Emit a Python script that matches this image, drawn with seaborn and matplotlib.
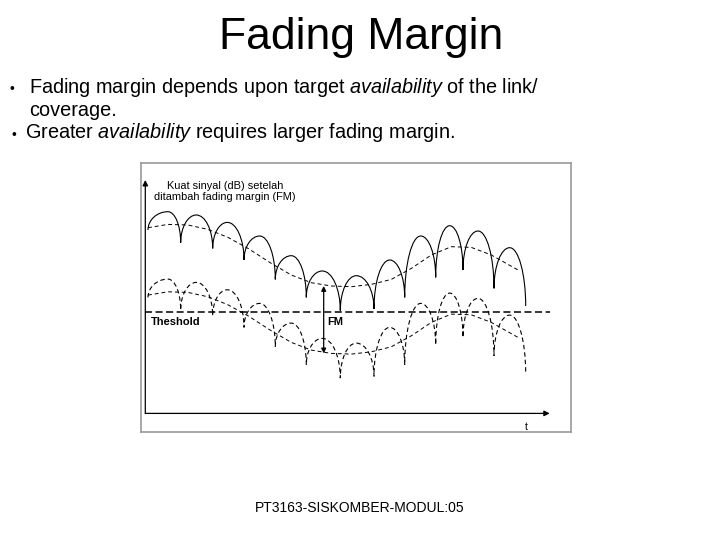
# Fading margin diagram (slide recreation)
import numpy as np
import pandas as pd
import matplotlib
matplotlib.use("Agg")
import matplotlib.pyplot as plt
from matplotlib.path import Path
from matplotlib.patches import PathPatch
import seaborn as sns

# Slide text
title = "Fading Margin"
bullet_1a = r"Fading margin depends upon target $\mathit{availability}$ of the link/"
bullet_1b = "coverage."
bullet_2 = r"Greater $\mathit{availability}$ requires larger fading margin."
footer = "PT3163-SISKOMBER-MODUL:05"

# Received signal (dB after adding FM): cusps (deep fades) and arch peaks
cusp_t = [10, 42.7, 74.7, 106, 137.3, 168.3, 202.3, 236, 266.7, 297.7, 325, 356, 387.7]
cusp_db = [201.7, 189, 183.3, 171.7, 152.3, 134.3, 121, 122.7, 134.3, 154.3, 161.7, 143.3, 125.7]
peak_t = [30, 58.3, 89.3, 121.7, 153.3, 184.3, 218.3, 251.7, 282.7, 311.7, 340, 371.7]
peak_db = [220, 216.7, 209.3, 195.7, 176, 160.7, 156, 171.7, 195.7, 206, 200.7, 184]

# Slow fading (mean level) envelope
env_t = [10, 30, 50, 70, 90, 110, 133.3, 153.3, 173.3, 193.3, 213.3, 233.3,
         253.3, 273.3, 293.3, 313.3, 333.3, 353.3, 380]
env_db = [204, 207.3, 206.7, 202.3, 194.3, 183.3, 168.3, 156.7, 149, 145.7, 145,
          147.3, 152.3, 163.3, 176.7, 185, 184.3, 176.7, 161.7]

fading_margin = 67.4
threshold_db = 119.3
fm_arrow_t = 185.7

sns.set_theme(style="white")
plt.rcParams['font.family'] = ['Liberation Sans', 'DejaVu Sans']
plt.rcParams['text.color'] = 'black'
plt.rcParams['mathtext.fontset'] = 'custom'
plt.rcParams['mathtext.rm'] = 'Liberation Sans'
plt.rcParams['mathtext.it'] = 'Liberation Sans:italic'

fig = plt.figure(figsize=(7.2, 5.4), dpi=100)
W, H = 720, 540

# Slide header, bullets and footer
fig.text(361 / W, 1 - 48.5 / H, title, ha='center', va='baseline', fontsize=32)
fig.text(10 / W, 1 - 93.3 / H, "\u2022", ha='left', va='baseline', fontsize=10)
fig.text(29 / W, 1 - 93.3 / H, bullet_1a, ha='left', va='baseline', fontsize=14.3)
fig.text(29 / W, 1 - 116.5 / H, bullet_1b, ha='left', va='baseline', fontsize=14.3)
fig.text(12 / W, 1 - 138.5 / H, "\u2022", ha='left', va='baseline', fontsize=10)
fig.text(25 / W, 1 - 138.5 / H, bullet_2, ha='left', va='baseline', fontsize=14.3)
fig.text(360 / W, 1 - 508 / H, footer, ha='center', va='center', fontsize=10)

# Diagram frame
ax = fig.add_axes([140.7 / W, 1 - 431.7 / H, 430 / W, 269 / H])
ax.set_xlim(2.7, 432.7)
ax.set_ylim(0, 269)
ax.set_xticks([])
ax.set_yticks([])
for s in ax.spines.values():
    s.set_color('#999999')
    s.set_linewidth(1.2)


def arch_path(ct, cd, pt, pd_, shift=0.0, k=0.55):
    verts = [(ct[0], cd[0] - shift)]
    codes = [Path.MOVETO]
    for i in range(len(pt)):
        xa, ya = ct[i], cd[i] - shift
        xb, yb = ct[i + 1], cd[i + 1] - shift
        xp, yp = pt[i], pd_[i] - shift
        verts += [(xa, ya + k * (yp - ya)), (xp - k * (xp - xa), yp), (xp, yp)]
        verts += [(xp + k * (xb - xp), yp), (xb, yb + k * (yp - yb)), (xb, yb)]
        codes += [Path.CURVE4] * 6
    return Path(verts, codes)


# Signal with FM (solid) and without FM (dashed)
ax.add_patch(PathPatch(arch_path(cusp_t, cusp_db, peak_t, peak_db),
                       fill=False, lw=0.8, color='black'))
ax.add_patch(PathPatch(arch_path(cusp_t, cusp_db, peak_t, peak_db, shift=fading_margin),
                       fill=False, lw=0.8, color='black', linestyle=(0, (4, 2.7))))

# Envelopes
env = pd.DataFrame({'t': env_t, 'db': env_db})
env['db_low'] = env['db'] - fading_margin
sns.lineplot(data=env, x='t', y='db', ax=ax, color='black', lw=0.7,
             linestyle=(0, (4, 3)), sort=False)
sns.lineplot(data=env, x='t', y='db_low', ax=ax, color='black', lw=0.7,
             linestyle=(0, (4, 3)), sort=False)

# Threshold line
thr = pd.DataFrame({'t': [7.3, 411.7], 'db': [threshold_db, threshold_db]})
sns.lineplot(data=thr, x='t', y='db', ax=ax, color='black', lw=1.1,
             linestyle=(0, (4.6, 2.3)))

# Axis arrows
ax.annotate("", xy=(7.3, 251.7), xytext=(7.3, 18.3),
            arrowprops=dict(arrowstyle="-|>", lw=0.9, color='black',
                            mutation_scale=8, shrinkA=0, shrinkB=0))
ax.annotate("", xy=(411.7, 18.3), xytext=(7.3, 18.3),
            arrowprops=dict(arrowstyle="-|>", lw=0.9, color='black',
                            mutation_scale=8, shrinkA=0, shrinkB=0))

# FM arrow
ax.annotate("", xy=(fm_arrow_t, env_db[9]), xytext=(fm_arrow_t, env_db[9] - fading_margin),
            arrowprops=dict(arrowstyle="<|-|>", lw=0.9, color='black',
                            mutation_scale=7, shrinkA=0, shrinkB=0))

ax.text(87, 240, "Kuat sinyal (dB) setelah\nditambah fading margin (FM)",
        ha='center', va='center', fontsize=7.9, linespacing=1.2)
ax.text(13.3, 109.3, "Theshold", ha='left', va='center', fontsize=8, fontweight='bold')
ax.text(189, 109.3, "FM", ha='left', va='center', fontsize=8, fontweight='bold')
ax.text(388, 4.7, "t", ha='center', va='center', fontsize=7.5)
ax.set_xlabel("")
ax.set_ylabel("")

fig.savefig("out.png", dpi=100)
